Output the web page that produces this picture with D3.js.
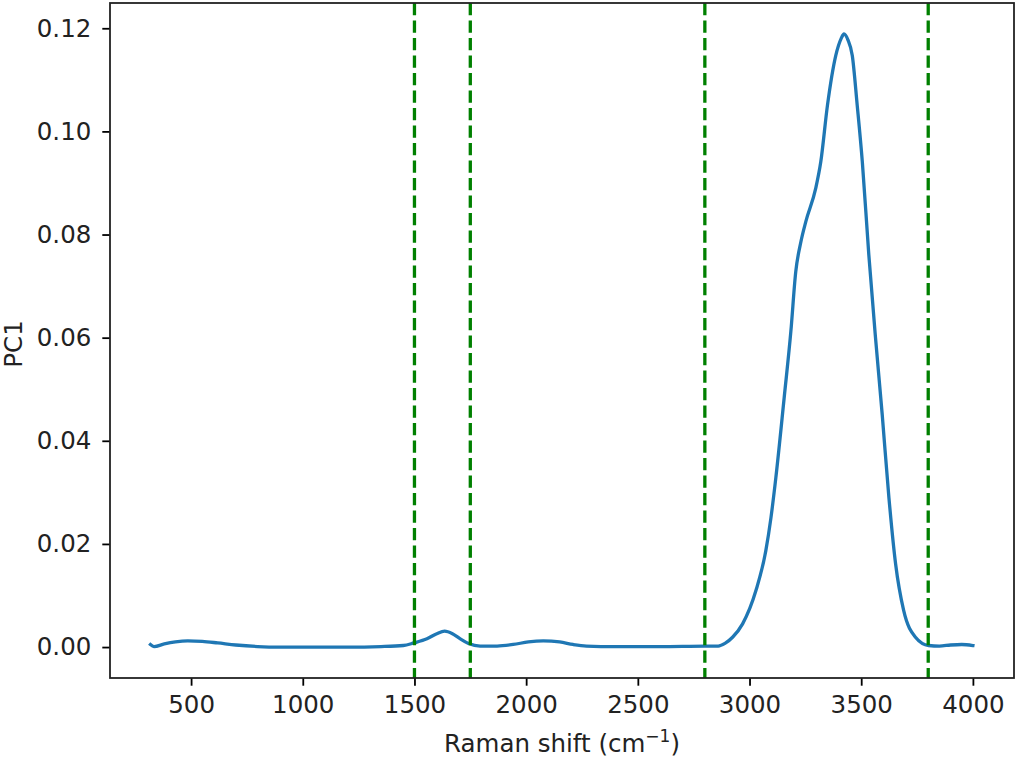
<!DOCTYPE html>
<html>
<head>
<meta charset="utf-8">
<script src="https://cdn.jsdelivr.net/npm/d3@7"></script>
<style>
  body { margin: 0; background: #fff; }
  svg { display: block; font-family: "DejaVu Sans", sans-serif; }
</style>
</head>
<body>
<svg width="1018" height="762"></svg>
<script>
// PC1 loading vs Raman shift
const ramanShift = [318, 334, 380, 430, 485, 550, 619, 700, 798, 900, 1000, 1200, 1350, 1450,
  1497, 1556, 1600, 1635, 1670, 1705, 1742, 1794, 1870, 1942, 2010, 2077, 2150, 2210, 2270,
  2400, 2600, 2800, 2860, 2890, 2924, 2969, 3029, 3073, 3096, 3118, 3155, 3185, 3207, 3230, 3252,
  3296, 3319, 3349, 3386, 3410, 3423, 3440, 3460, 3482, 3505, 3534, 3563, 3594, 3624, 3654,
  3690, 3743, 3802, 3850, 3900, 3950, 4000];
const pc1 = [0.0005, 0.0001, 0.0006, 0.0010, 0.0012, 0.0011, 0.0008, 0.0004, 0.0001, 0.0000, 0.0000, 0.0000, 0.0001, 0.0003,
  0.0008, 0.0016, 0.0026, 0.0031, 0.0026, 0.0016, 0.0007, 0.0002, 0.0002, 0.0005, 0.0010, 0.0012, 0.0010, 0.0005, 0.0002,
  0.0001, 0.0001, 0.0002, 0.0002, 0.0007, 0.0019, 0.0045, 0.0110, 0.0187, 0.0251, 0.0329, 0.0483, 0.0612, 0.0728, 0.0786, 0.0825,
  0.0889, 0.0941, 0.1051, 0.1147, 0.1180, 0.1189, 0.1178, 0.1147, 0.1051, 0.0941, 0.0761, 0.0605, 0.0451, 0.0290, 0.0161,
  0.0071, 0.0019, 0.0003, 0.0002, 0.0004, 0.0005, 0.0003];
const bandEdges = [1500, 1750, 2800, 3800];
const xTicks = [500, 1000, 1500, 2000, 2500, 3000, 3500, 4000];
const yTicks = [0.00, 0.02, 0.04, 0.06, 0.08, 0.10, 0.12];

const blue = "#1f77b4", green = "#008000";
const plotLeft = 110, plotRight = 1014, plotTop = 3, plotBottom = 678;
const fontSize = "24.5px";

const data = ramanShift.map((x, i) => ({x: x, y: pc1[i]}));

let xScale = d3.scaleLinear().domain([137, 4184]).range([plotLeft, plotRight]);
let yScale = d3.scaleLinear().domain([-0.006, 0.1249]).range([plotBottom, plotTop]);

const svg = d3.select("svg");

// curve
let line = d3.line()
  .x(d => xScale(d.x))
  .y(d => yScale(d.y))
  .curve(d3.curveMonotoneX);

svg.append("path")
  .attr("d", line(data))
  .attr("fill", "none")
  .attr("stroke", blue)
  .attr("stroke-width", 3.3)
  .attr("stroke-linejoin", "round")
  .attr("stroke-linecap", "square");

// band edges
svg.selectAll("line.band")
  .data(bandEdges)
  .join("line")
  .attr("class", "band")
  .attr("x1", d => xScale(d))
  .attr("x2", d => xScale(d))
  .attr("y1", plotTop)
  .attr("y2", plotBottom)
  .attr("stroke", green)
  .attr("stroke-width", 3.3)
  .attr("stroke-dasharray", "12.2 5.3");

// axes
let xAxis = d3.axisBottom(xScale).tickValues(xTicks)
  .tickSizeInner(7.7).tickSizeOuter(0).tickPadding(10).tickFormat(d3.format("d"));
let yAxis = d3.axisLeft(yScale).tickValues(yTicks)
  .tickSizeInner(7.7).tickSizeOuter(0).tickPadding(11).tickFormat(d3.format(".2f"));

let xAxisG = svg.append("g").attr("transform", `translate(0, ${plotBottom})`).call(xAxis);
let yAxisG = svg.append("g").attr("transform", `translate(${plotLeft}, 0)`).call(yAxis);

[xAxisG, yAxisG].forEach(g => {
  g.select(".domain").remove();
  g.selectAll(".tick line").attr("stroke", "#000").attr("stroke-width", 1.8);
  g.selectAll(".tick text").attr("fill", "#222").style("font-size", fontSize)
    .style("font-family", "DejaVu Sans, sans-serif");
});

// frame
svg.append("rect")
  .attr("x", plotLeft).attr("y", plotTop)
  .attr("width", plotRight - plotLeft).attr("height", plotBottom - plotTop)
  .attr("fill", "none").attr("stroke", "#222").attr("stroke-width", 1.8);

// labels
let xLabel = svg.append("text")
  .attr("x", 562).attr("y", 752)
  .attr("text-anchor", "middle")
  .attr("fill", "#222")
  .style("font-size", fontSize);
xLabel.append("tspan").text("Raman shift (cm");
xLabel.append("tspan").attr("dy", -10).style("font-size", "17px").text("−1");
xLabel.append("tspan").attr("dy", 10).text(")");

svg.append("text")
  .attr("transform", `translate(22, 344) rotate(-90)`)
  .attr("text-anchor", "middle")
  .attr("fill", "#222")
  .style("font-size", fontSize)
  .text("PC1");
</script>
</body>
</html>
